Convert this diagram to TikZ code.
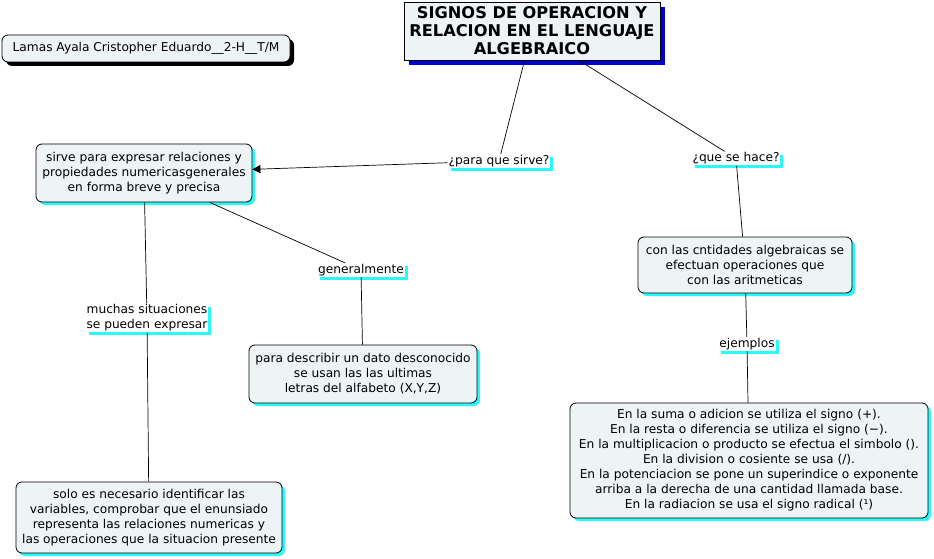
\documentclass[tikz,border=0pt]{standalone}
\usepackage{fontspec}
\setmainfont{DejaVu Sans}
\usetikzlibrary{shadows,arrows.meta}
\definecolor{boxfill}{RGB}{238,243,245}
\definecolor{cyanshadow}{RGB}{40,250,250}
\definecolor{titleshadow}{RGB}{0,0,210}
\begin{document}
\begin{tikzpicture}[x=1pt,y=-1pt,
  txt/.style={font=\fontsize{12.2}{15}\selectfont},
  cbox/.style={txt, draw=black, line width=0.8pt, rounded corners=6pt, fill=boxfill, align=center, inner sep=0pt,
    drop shadow={shadow xshift=3pt, shadow yshift=-3pt, fill=cyanshadow, opacity=1}},
  lab/.style={txt, fill=white, inner sep=1pt, align=center,
    drop shadow={shadow xshift=3pt, shadow yshift=-3pt, fill=cyanshadow, opacity=1}},
  conn/.style={draw=black, line width=0.7pt}]
\useasboundingbox (0,0) rectangle (934,559);
\fill[white] (0,0) rectangle (934,559);

\node[txt, draw=black, line width=0.8pt, rounded corners=6pt, fill=boxfill, minimum width=288pt, minimum height=27pt, inner sep=0pt,
  drop shadow={shadow xshift=4pt, shadow yshift=-4pt, fill=black, opacity=1}] (name) at (146,48.5) {Lamas Ayala Cristopher Eduardo\_\_2-H\_\_T/M};

\node[draw=black, line width=0.8pt, fill=boxfill, minimum width=256pt, minimum height=58pt, inner sep=0pt, align=center,
  font=\bfseries\fontsize{16.2}{18}\selectfont,
  drop shadow={shadow xshift=5pt, shadow yshift=-5pt, fill=titleshadow, opacity=1}] (title) at (532,31)
  {SIGNOS DE OPERACION Y\\RELACION EN EL LENGUAJE\\ALGEBRAICO};

\node[cbox, minimum width=216pt, minimum height=58pt] (b1) at (144,173)
  {sirve para expresar relaciones y\\propiedades numericasgenerales\\en forma breve y precisa};
\node[cbox, minimum width=228pt, minimum height=58pt] (b3) at (363,374)
  {para describir un dato desconocido\\se usan las las ultimas\\letras del alfabeto (X,Y,Z)};
\node[cbox, minimum width=266pt, minimum height=71pt] (solo) at (149,517.5)
  {solo es necesario identificar las\\variables, comprobar que el enunsiado\\representa las relaciones numericas y\\las operaciones que la situacion presente};
\node[cbox, minimum width=214pt, minimum height=56pt] (con) at (745,265)
  {con las cntidades algebraicas se\\efectuan operaciones que\\con las aritmeticas};
\node[cbox, minimum width=358pt, minimum height=115pt] (ej) at (749,460.5)
  {En la suma o adicion se utiliza el signo (+).\\En la resta o diferencia se utiliza el signo (−).\\En la multiplicacion o producto se efectua el simbolo ().\\En la division o cosiente se usa (/).\\En la potenciacion se pone un superindice o exponente\\arriba a la derecha de una cantidad llamada base.\\En la radiacion se usa el signo radical (¹)};

\node[lab] (para) at (499,161) {¿para que sirve?};
\node[lab] (que) at (736,158.5) {¿que se hace?};
\node[lab] (gen) at (361,270) {generalmente};
\node[lab] (much) at (147,318) {muchas situaciones\\se pueden expresar};
\node[lab] (ejl) at (747,344) {ejemplos};

\draw[conn] (title) -- (para);
\draw[conn] (title) -- (que);
\draw[conn, -{Triangle[length=8pt,width=8pt]}] (para) -- (b1);
\draw[conn] (b1) -- (gen);
\draw[conn] (gen) -- (b3);
\draw[conn] (b1) -- (much);
\draw[conn] (much) -- (solo);
\draw[conn] (que) -- (con);
\draw[conn] (con) -- (ejl);
\draw[conn] (ejl) -- (ej);
\end{tikzpicture}
\end{document}
